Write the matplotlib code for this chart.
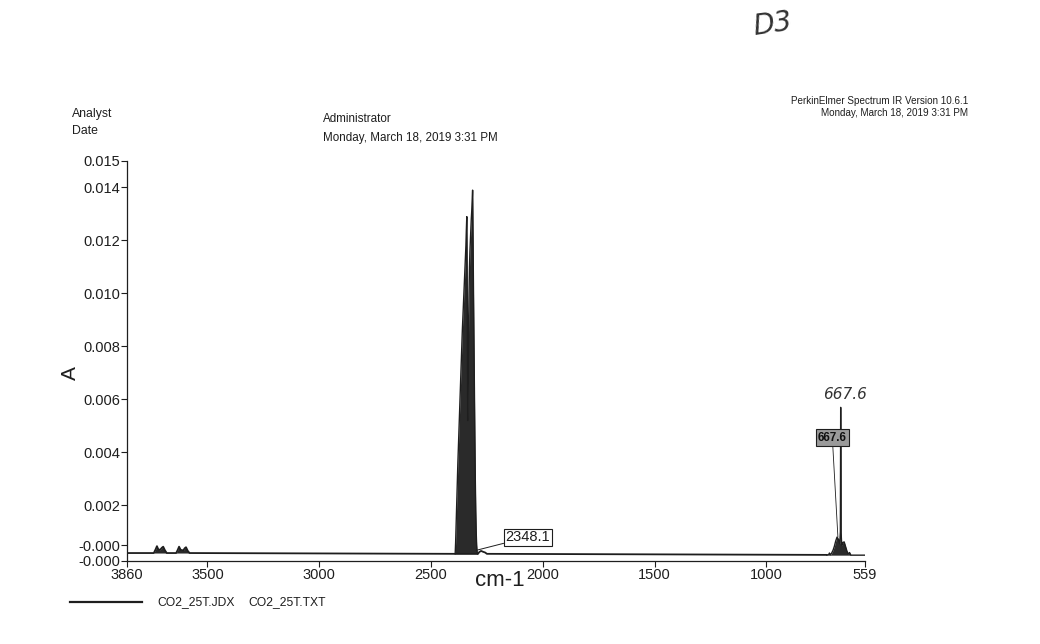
import matplotlib.pyplot as plt
from matplotlib.lines import Line2D

plt.rcParams['font.family'] = ['Liberation Sans', 'DejaVu Sans']

# x ticks (cm-1) and y ticks as printed on the sheet
x_ticks = [3860, 3500, 3000, 2500, 2000, 1500, 1000, 559]
y_ticks = [-0.0001, 0.0005, 0.002, 0.004, 0.006, 0.008, 0.010, 0.012, 0.014, 0.015]
y_labels = ["-0.000", "-0.000", "0.002", "0.004", "0.006", "0.008", "0.010", "0.012", "0.014", "0.015"]

# baseline with the weak combination bands near 3700 / 3600 and the 13CO2 bump
spec_wn = [3860, 3740, 3732, 3726, 3720, 3712, 3704, 3698, 3690, 3682,
           3640, 3633, 3627, 3620, 3608, 3602, 3596, 3588, 3580,
           2392, 2290, 2284, 2276, 2268, 2258, 2250, 730]
spec_a = [0.00020, 0.00020, 0.00034, 0.00046, 0.00034, 0.00032, 0.00040, 0.00044, 0.00030, 0.00020,
          0.00020, 0.00032, 0.00044, 0.00032, 0.00030, 0.00038, 0.00042, 0.00028, 0.00020,
          0.00017, 0.00017, 0.00024, 0.00028, 0.00025, 0.00022, 0.00017, 0.00013]

# asymmetric stretch band (R and P branches)
band_wn = [2392, 2390, 2388, 2386, 2384, 2382, 2380, 2378, 2376, 2374, 2372, 2370,
           2368, 2366, 2364, 2362, 2360, 2358, 2356, 2354, 2352, 2350, 2348, 2346,
           2344, 2342, 2340, 2338, 2336, 2334, 2332, 2330, 2328, 2326, 2324, 2322,
           2320, 2318, 2316, 2314, 2312, 2310, 2308, 2306, 2304, 2302, 2300, 2298,
           2296, 2294, 2292]
band_a = [0.00017, 0.0006, 0.0012, 0.0018, 0.0024, 0.0030, 0.0036, 0.0041, 0.0046, 0.0051, 0.0056, 0.0061,
          0.0066, 0.0071, 0.0076, 0.0081, 0.0086, 0.0090, 0.0094, 0.0098, 0.0102, 0.0106, 0.0110, 0.0114,
          0.0118, 0.0124, 0.0129, 0.0100, 0.0052, 0.0070, 0.0088, 0.0100, 0.0110, 0.0116, 0.0120, 0.0124,
          0.0128, 0.0131, 0.0135, 0.0139, 0.0120, 0.0100, 0.0082, 0.0064, 0.0046, 0.0030, 0.0018, 0.0010,
          0.0005, 0.00025, 0.00017]

# bending band around 667 cm-1
bend_wn = [730, 722, 718, 714, 708, 702, 696, 690, 684, 678, 672, 669, 667.6, 666, 663, 658, 652,
           646, 640, 634, 628, 622, 559]
bend_a = [0.00013, 0.00013, 0.00020, 0.00013, 0.00020, 0.00030, 0.00045, 0.00065, 0.00080, 0.00072, 0.00055,
          0.0010, 0.0057, 0.0010, 0.00050, 0.00060, 0.00062, 0.00045, 0.00028, 0.00016, 0.00022, 0.00012, 0.00012]

fig = plt.figure(figsize=(10.4, 6.44), dpi=100)
ax = fig.add_axes([0.1221, 0.1289, 0.7096, 0.6211])

ink = '#1e1e1e'
ax.plot(spec_wn, spec_a, color=ink, lw=1.3)
ax.fill_between(spec_wn[:19], 0.00020, spec_a[:19], color='#2a2a2a', lw=0)
ax.fill_between(band_wn, 0.00017, band_a, color='#2a2a2a', lw=0)
ax.plot(band_wn, band_a, color=ink, lw=1.0)
ax.fill_between(bend_wn, 0.00012, bend_a, color='#2a2a2a', lw=0)
ax.plot(bend_wn, bend_a, color=ink, lw=1.0)

ax.set_xlim(3860, 559)
ax.set_ylim(-0.0001, 0.015)
ax.set_xticks(x_ticks)
ax.set_xticklabels([str(t) for t in x_ticks])
ax.set_yticks(y_ticks)
ax.set_yticklabels(y_labels)
ax.tick_params(direction='out', length=4, width=0.8, labelsize=10.5, colors=ink, pad=1)
for s in ['top', 'right']:
    ax.spines[s].set_visible(False)
for s in ['left', 'bottom']:
    ax.spines[s].set_color(ink)
    ax.spines[s].set_linewidth(0.9)

ax.set_xlabel('cm-1', fontsize=16, color=ink)
ax.xaxis.set_label_coords(0.505, -0.022)
ax.set_ylabel('A', fontsize=15, color=ink)
ax.yaxis.set_label_coords(-0.064, 0.47)

# peak labels
ax.annotate('2348.1', xy=(2299, 0.0003), xytext=(2067, 0.0008), fontsize=10.5, color=ink,
            ha='center', va='center',
            bbox=dict(boxstyle='square,pad=0.1', fc='white', ec=ink, lw=0.8),
            arrowprops=dict(arrowstyle='-', color=ink, lw=0.7, shrinkA=0, shrinkB=0))
ax.annotate('667.6', xy=(680, 0.0008), xytext=(705, 0.00455), fontsize=8.5, color='#111111',
            ha='center', va='center', fontweight='bold',
            bbox=dict(boxstyle='square,pad=0.2', fc='#9a9a9a', ec=ink, lw=0.8),
            arrowprops=dict(arrowstyle='-', color=ink, lw=0.6, shrinkA=0, shrinkB=0))
ax.text(649, 0.0062, '667.6', fontsize=11, color='#333333', ha='center', va='center',
        family='DejaVu Sans', style='italic', fontweight='light')

# header
fig.text(72 / 1040, 1 - 114 / 644, 'Analyst', fontsize=8.8, color=ink, va='center')
fig.text(72 / 1040, 1 - 131 / 644, 'Date', fontsize=8.8, color=ink, va='center')
fig.text(323 / 1040, 1 - 119 / 644, 'Administrator', fontsize=8.4, color=ink, va='center')
fig.text(323 / 1040, 1 - 138 / 644, 'Monday, March 18, 2019 3:31 PM', fontsize=8.4, color=ink, va='center')
fig.text(968 / 1040, 1 - 101 / 644, 'PerkinElmer Spectrum IR Version 10.6.1', fontsize=7.1, color=ink,
         va='center', ha='right')
fig.text(968 / 1040, 1 - 113 / 644, 'Monday, March 18, 2019 3:31 PM', fontsize=7.1, color=ink,
         va='center', ha='right')
fig.text(772 / 1040, 1 - 24 / 644, 'D3', fontsize=20, color='#333333', va='center', ha='center',
         family='DejaVu Sans', style='italic', fontweight='light', rotation=8)

# legend
fig.add_artist(Line2D([70 / 1040, 142 / 1040], [1 - 602 / 644, 1 - 602 / 644], color=ink, lw=1.6))
fig.text(157 / 1040, 1 - 602 / 644, 'CO2_25T.JDX', fontsize=8.7, color=ink, va='center')
fig.text(248 / 1040, 1 - 602 / 644, 'CO2_25T.TXT', fontsize=8.7, color=ink, va='center')

fig.savefig('out.png', dpi=100, facecolor='white')
